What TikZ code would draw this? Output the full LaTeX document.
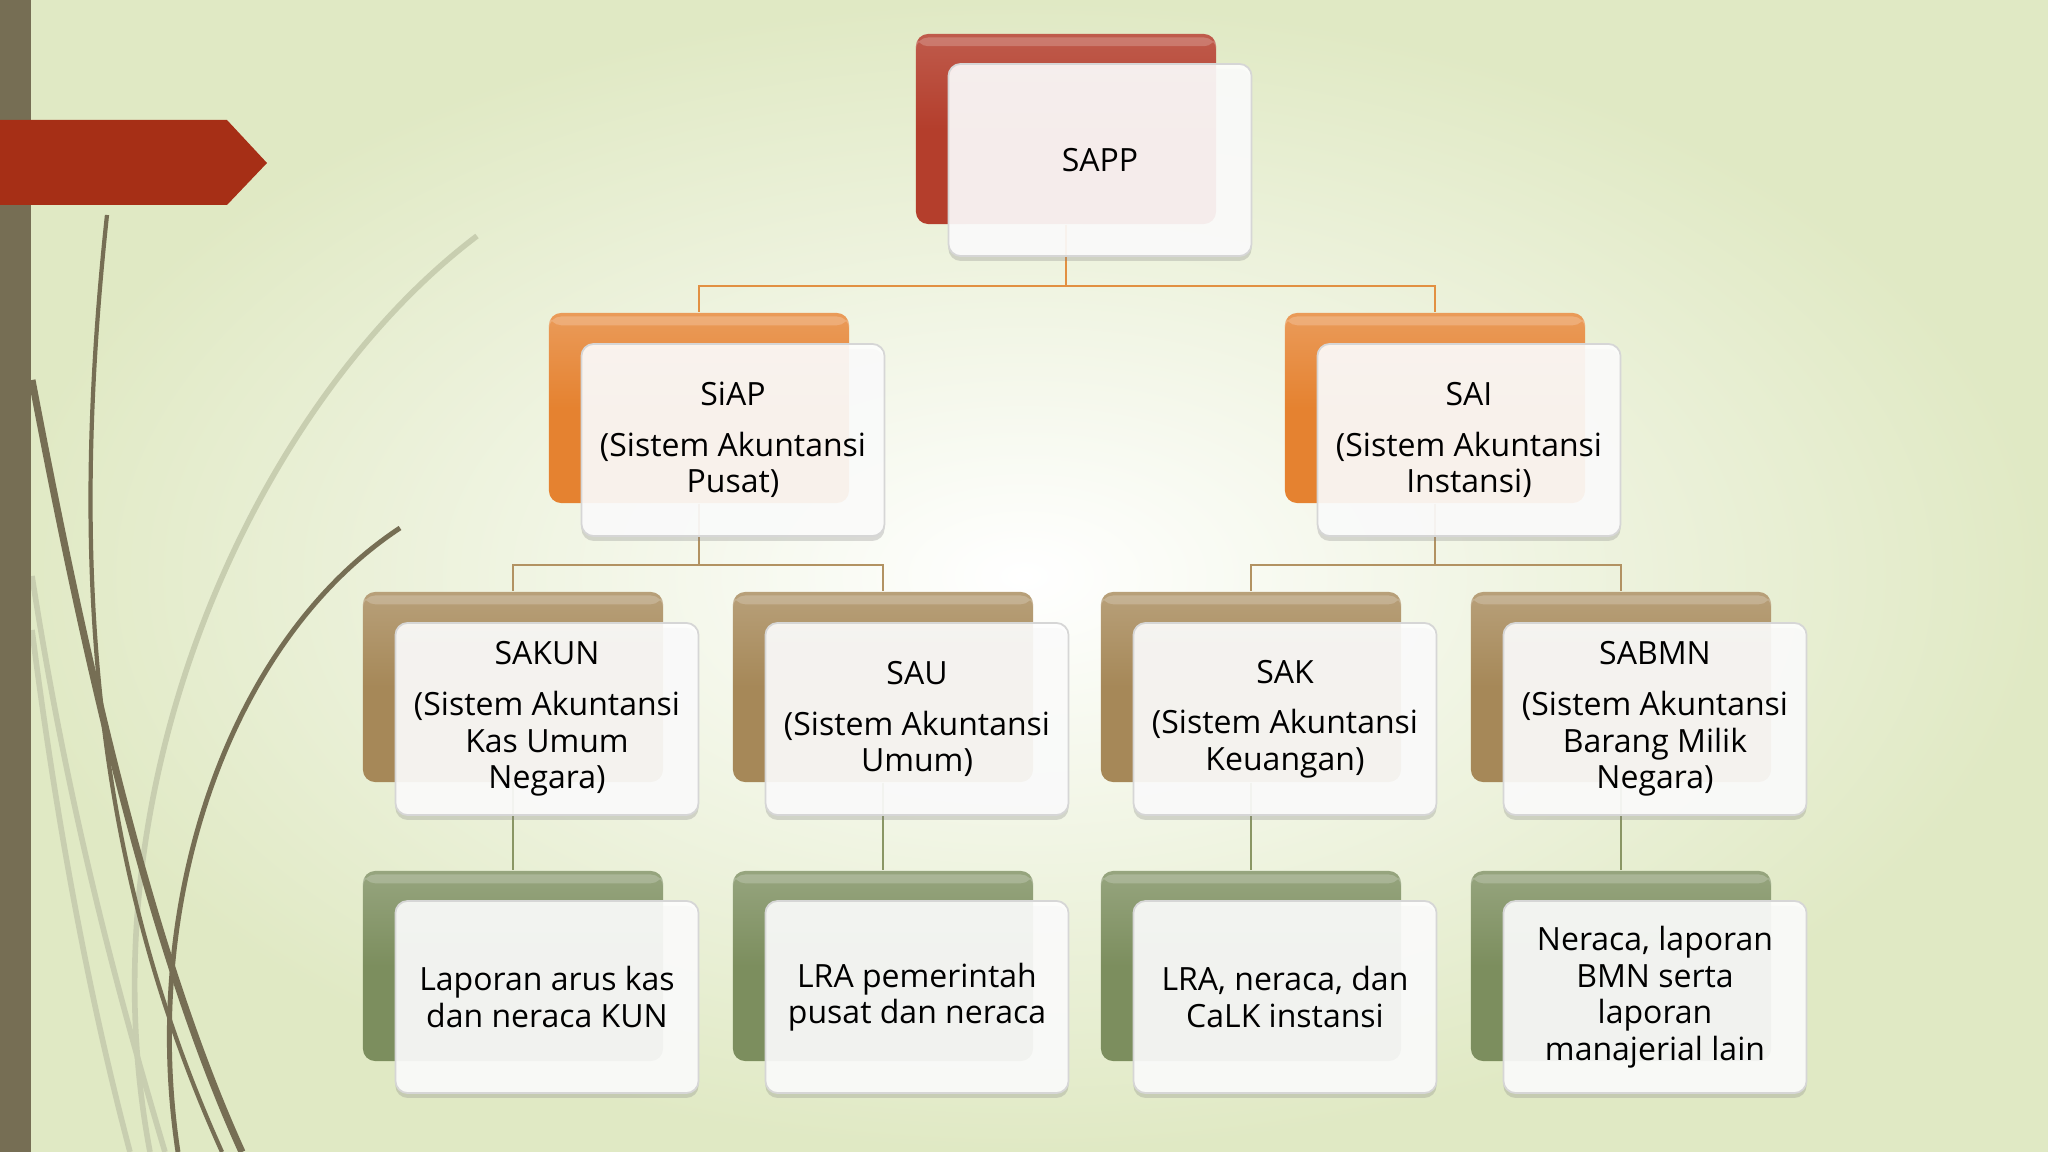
\documentclass[tikz,border=0pt]{standalone}
\usepackage{fontspec}
\setmainfont{Open Sans}
\usetikzlibrary{positioning,shadows}

\definecolor{bgout}{RGB}{224,233,196}
\definecolor{barcol}{RGB}{118,110,84}
\definecolor{flagred}{RGB}{166,47,22}
\definecolor{softline}{RGB}{200,206,176}
\definecolor{redbox}{RGB}{180,62,44}
\definecolor{orgbox}{RGB}{229,130,48}
\definecolor{tanbox}{RGB}{166,136,88}
\definecolor{grnbox}{RGB}{124,142,94}
\definecolor{orgline}{RGB}{226,144,66}
\definecolor{tanline}{RGB}{178,146,98}
\definecolor{grnline}{RGB}{138,150,100}

\begin{document}
\begin{tikzpicture}[
  x=0.01cm, y=-0.01cm,
  font=\fontsize{9.1}{10.4}\selectfont,
  back/.style={rectangle, rounded corners=3.5pt, minimum width=3cm, minimum height=1.9cm,
               path picture={\fill[white, opacity=0.2] ([yshift=-1pt]path picture bounding box.north west)
                 rectangle ([yshift=-3.5pt]path picture bounding box.north east);}},
  front/.style={rectangle, rounded corners=3.5pt, minimum width=3.03cm, minimum height=1.92cm,
                fill=white!93!black!4, fill opacity=0.9, text opacity=1, draw=black!16, line width=0.5pt,
                align=center, text=black, drop shadow={opacity=0.28, shadow xshift=0pt, shadow yshift=-1.4pt}},
  redb/.style={back, top color=redbox!85!white, bottom color=redbox, middle color=redbox},
  orgb/.style={back, top color=orgbox!80!white, bottom color=orgbox, middle color=orgbox},
  tanb/.style={back, top color=tanbox!80!white, bottom color=tanbox, middle color=tanbox},
  grnb/.style={back, top color=grnbox!80!white, bottom color=grnbox, middle color=grnbox},
  link/.style={line width=0.6pt},
  deco/.style={draw=barcol, line width=1.6pt},
  decosoft/.style={draw=softline, line width=1.6pt}
]
% background
\shade[inner color=white, outer color=bgout] (0,0) rectangle (2048,1152);
\useasboundingbox (0,0) rectangle (2048,1152);

% left ornaments
\draw[decosoft] (477,236) .. controls (260,400) and (80,780) .. (150,1152);
\draw[decosoft] (32,576) .. controls (70,820) and (120,1000) .. (165,1152);
\draw[decosoft] (32,630) .. controls (60,850) and (95,1020) .. (130,1152);
\draw[deco, line width=1.2pt] (107,215) .. controls (70,560) and (90,860) .. (222,1152);
\draw[deco, line width=2pt] (32,380) .. controls (85,660) and (150,950) .. (242,1152);
\draw[deco, line width=1.4pt] (400,528) .. controls (230,640) and (140,900) .. (178,1152);
\fill[barcol] (0,0) rectangle (31,1152);
\fill[flagred] (0,120) -- (227,120) -- (267,163) -- (227,205) -- (0,205) -- cycle;

% back boxes
\node[redb] (sappB)  at (1066,129) {};
\node[orgb] (siapB)  at (699,408) {};
\node[orgb] (saiB)   at (1435,408) {};
\node[tanb] (sakunB) at (513,687) {};
\node[tanb] (sauB)   at (883,687) {};
\node[tanb] (sakB)   at (1251,687) {};
\node[tanb] (sabmnB) at (1621,687) {};
\node[grnb] (lapAB)  at (513,966) {};
\node[grnb] (lapBB)  at (883,966) {};
\node[grnb] (lapCB)  at (1251,966) {};
\node[grnb] (lapDB)  at (1621,966) {};

% connectors
\draw[link, orgline] (sappB.south) -- ++(0,61) -| (siapB.north);
\draw[link, orgline] (sappB.south) -- ++(0,61) -| (saiB.north);
\draw[link, tanline] (siapB.south) -- ++(0,61) -| (sakunB.north);
\draw[link, tanline] (siapB.south) -- ++(0,61) -| (sauB.north);
\draw[link, tanline] (saiB.south) -- ++(0,61) -| (sakB.north);
\draw[link, tanline] (saiB.south) -- ++(0,61) -| (sabmnB.north);
\draw[link, grnline] (sakunB.south) -- (lapAB.north);
\draw[link, grnline] (sauB.south) -- (lapBB.north);
\draw[link, grnline] (sakB.south) -- (lapCB.north);
\draw[link, grnline] (sabmnB.south) -- (lapDB.north);

% front boxes
\node[front] (sapp)  at (1100,160) {SAPP};
\node[front] (siap)  at (733,440)  {SiAP\\[4pt](Sistem Akuntansi\\Pusat)};
\node[front] (sai)   at (1469,440) {SAI\\[4pt](Sistem Akuntansi\\Instansi)};
\node[front] (sakun) at (547,719)  {SAKUN\\[4pt](Sistem Akuntansi\\Kas Umum\\Negara)};
\node[front] (sau)   at (917,719)  {SAU\\[4pt](Sistem Akuntansi\\Umum)};
\node[front] (sak)   at (1285,719) {SAK\\[4pt](Sistem Akuntansi\\Keuangan)};
\node[front] (sabmn) at (1655,719) {SABMN\\[4pt](Sistem Akuntansi\\Barang Milik\\Negara)};
\node[front] (lapA)  at (547,997)  {Laporan arus kas\\dan neraca KUN};
\node[front] (lapB)  at (917,997)  {LRA pemerintah\\pusat dan neraca};
\node[front] (lapC)  at (1285,997) {LRA, neraca, dan\\CaLK instansi};
\node[front] (lapD)  at (1655,997) {Neraca, laporan\\BMN serta\\laporan\\manajerial lain};
\end{tikzpicture}
\end{document}
